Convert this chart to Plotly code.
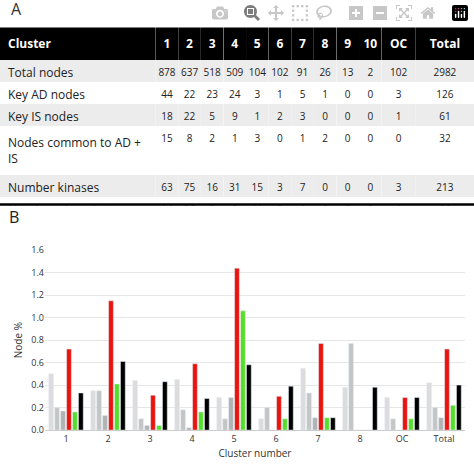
import plotly.graph_objects as go

# table data
row_names = ["Total nodes", "Key AD nodes", "Key IS nodes", "Nodes common to AD + IS",
             "Number kinases", "Number phosphatases", "GWAS nodes"]
table_cols = ["1", "2", "3", "4", "5", "6", "7", "8", "9", "10", "OC", "Total"]
table_vals = [
    [878, 637, 518, 509, 104, 102, 91, 26, 13, 2, 102, 2982],
    [44, 22, 23, 24, 3, 1, 5, 1, 0, 0, 3, 126],
    [18, 22, 5, 9, 1, 2, 3, 0, 0, 0, 1, 61],
    [15, 8, 2, 1, 3, 0, 1, 2, 0, 0, 0, 32],
    [63, 75, 16, 31, 15, 3, 7, 0, 0, 0, 3, 213],
    [14, 26, 2, 8, 11, 3, 1, 0, 0, 0, 1, 66],
    [31, 39, 22, 14, 6, 4, 1, 1, 0, 0, 3, 121],
]

# bar chart data
clusters = ["1", "2", "3", "4", "5", "6", "7", "8", "OC", "Total"]
s1 = [0.50, 0.35, 0.44, 0.45, 0.29, 0.10, 0.55, 0.38, 0.29, 0.42]
s2 = [0.20, 0.35, 0.10, 0.18, 0.10, 0.20, 0.33, 0.77, 0.10, 0.20]
s3 = [0.17, 0.13, 0.04, 0.02, 0.29, 0.00, 0.11, 0.00, 0.00, 0.11]
s4 = [0.72, 1.15, 0.31, 0.59, 1.44, 0.30, 0.77, 0.00, 0.29, 0.72]
s5 = [0.16, 0.41, 0.04, 0.16, 1.06, 0.10, 0.11, 0.00, 0.10, 0.22]
s6 = [0.33, 0.61, 0.43, 0.28, 0.58, 0.39, 0.11, 0.38, 0.29, 0.40]
bar_colors = ["#dcdcdc", "#c4c6c6", "#aeb3b4", "#e8140e", "#55de2c", "#000000"]

H = 474
def py(px):  # pixel from top -> paper y
    return 1 - px / H

fig = go.Figure()

columns = [["<b>Cluster</b>"] + row_names]
for j, c in enumerate(table_cols):
    columns.append(["<b>%s</b>" % c] + [str(r[j]) for r in table_vals])
header = [c[0] for c in columns]
cells = [c[1:] for c in columns]
fills = ["#ececec" if i % 2 == 0 else "white" for i in range(len(row_names))]

fig.add_trace(go.Table(
    domain=dict(x=[0, 1], y=[py(205), py(21)]),
    columnwidth=[155] + [22.5] * 10 + [34, 58],
    header=dict(values=header, fill_color="black",
                font=dict(color="white", size=12, family="Open Sans"),
                align=["left"] + ["center"] * 12, height=24,
                line=dict(width=0)),
    cells=dict(values=cells, fill_color=[fills],
               font=dict(color="#222", size=[12] + [10] * 12, family="Open Sans"),
               align=["left"] + ["center"] * 12, height=22,
               line=dict(width=0)),
))

for vals, col in zip([s1, s2, s3, s4, s5, s6], bar_colors):
    fig.add_trace(go.Bar(x=clusters, y=vals, marker_color=col, showlegend=False))

fig.update_layout(
    width=474, height=474, margin=dict(l=0, r=0, t=0, b=0),
    paper_bgcolor="white", plot_bgcolor="white",
    barmode="group", bargap=0.15, bargroupgap=0.2,
    font=dict(family="Open Sans", color="#333"),
    xaxis=dict(domain=[45 / 474, 465 / 474], tickfont=dict(size=9),
               title=dict(text="Cluster number", font=dict(size=10), standoff=6),
               showline=True, linecolor="#ccc", ticks=""),
    yaxis=dict(domain=[py(435), py(250)], range=[0, 1.6], dtick=0.2, tickformat=".1f",
               tickfont=dict(size=9), gridcolor="#e6e6e6", zeroline=False,
               title=dict(text="Node %", font=dict(size=10), standoff=6)),
    shapes=[dict(type="line", xref="paper", yref="paper", x0=0, x1=1,
                 y0=py(203), y1=py(203), line=dict(color="black", width=2.5))],
    annotations=[
        dict(text="A", x=0.02, y=py(2), xref="paper", yref="paper", showarrow=False,
             xanchor="left", yanchor="middle", font=dict(size=16, color="#333")),
        dict(text="B", x=0.015, y=py(216), xref="paper", yref="paper", showarrow=False,
             xanchor="left", yanchor="middle", font=dict(size=16, color="#222")),
    ],
)

fig.write_html("out.html", post_script="document.body.style.margin='0';")
